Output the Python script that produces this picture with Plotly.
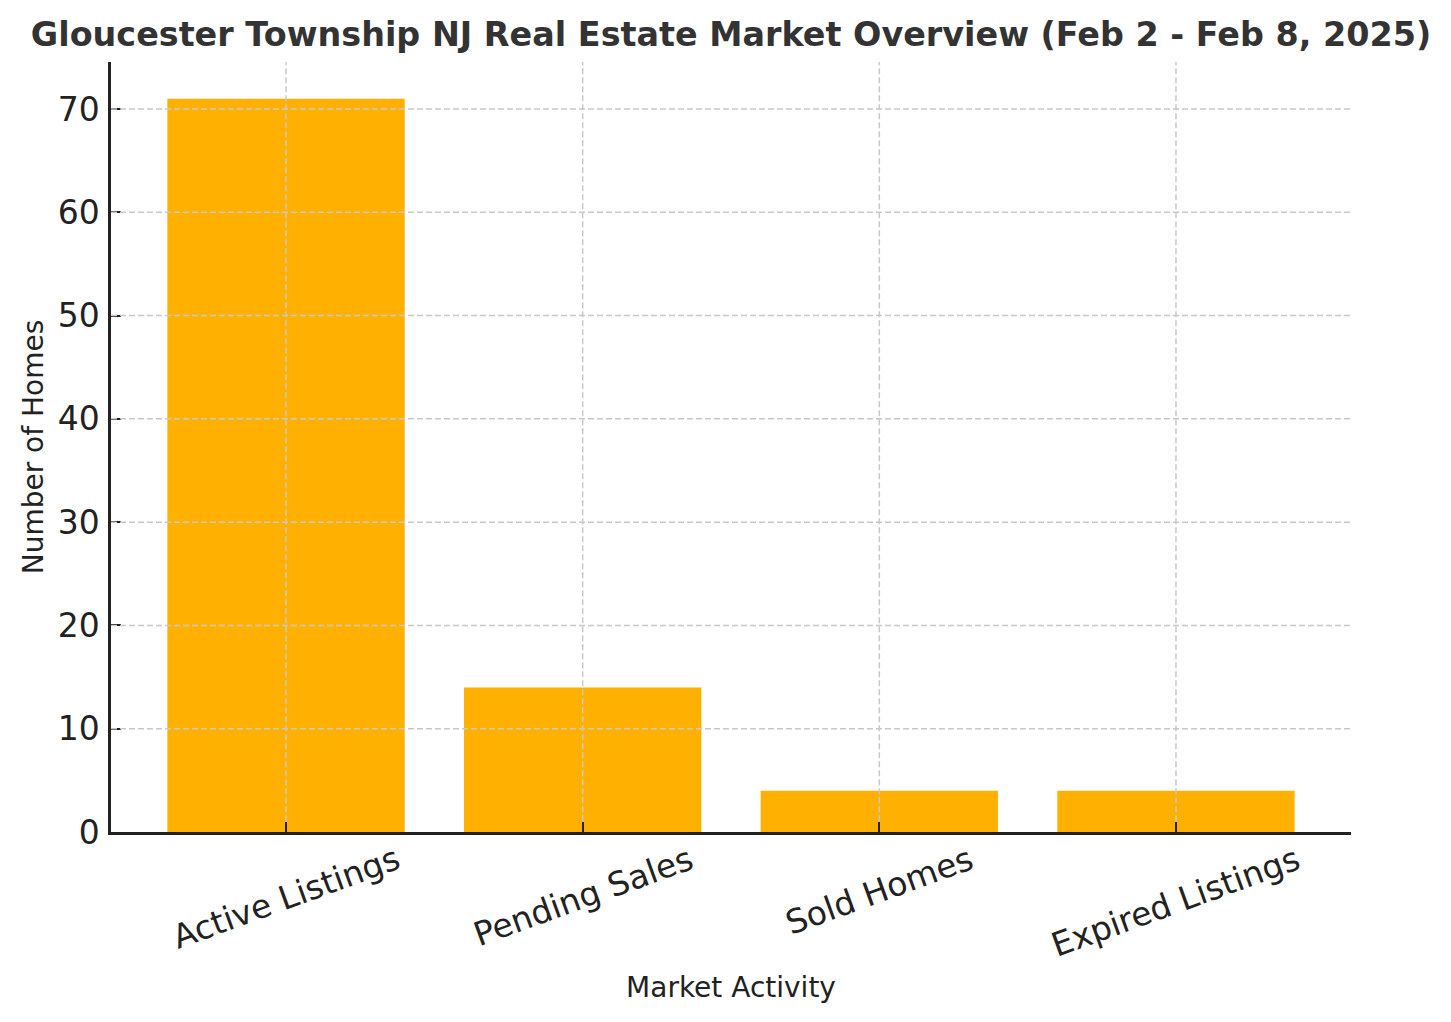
import plotly.graph_objects as go

categories = ["Active Listings", "Pending Sales", "Sold Homes", "Expired Listings"]
values = [71, 14, 4, 4]
y_ticks = [0, 10, 20, 30, 40, 50, 60, 70]

title_text = "Gloucester Township NJ Real Estate Market Overview (Feb 2 - Feb 8, 2025)"
x_label = "Market Activity"
y_label = "Number of Homes"

BAR_COLOR = "#FFB000"
TEXT = "#222222"
GRID = "#c8c8c8"
FONT = "DejaVu Sans"

x_pos = list(range(len(categories)))

fig = go.Figure()
fig.add_trace(go.Bar(
    x=x_pos, y=values, width=0.8,
    marker=dict(color=BAR_COLOR, line=dict(width=0)),
    hoverinfo="x+y",
))

shapes = []
for t in y_ticks:
    if t == 0:
        continue
    shapes.append(dict(type="line", xref="paper", x0=0, x1=1, yref="y", y0=t, y1=t,
                       line=dict(color=GRID, width=1.5, dash="6px,3px"), layer="above"))
for p in x_pos:
    shapes.append(dict(type="line", xref="x", x0=p, x1=p, yref="paper", y0=0.014, y1=1,
                       line=dict(color=GRID, width=1.5, dash="6px,3px"), layer="above"))

annotations = []
for p, c in zip(x_pos, categories):
    annotations.append(dict(x=p, xref="x", y=0, yref="paper", text=c, showarrow=False,
                            textangle=-20, xanchor="center", yanchor="top", yshift=-4,
                            font=dict(family=FONT, size=33, color=TEXT)))

fig.update_layout(
    width=1451, height=1022,
    margin=dict(l=111, r=100, t=62, b=190, autoexpand=False),
    paper_bgcolor="white", plot_bgcolor="white",
    showlegend=False,
    title=dict(text="<b>" + title_text + "</b>", x=0.5, xanchor="center", xref="paper",
               y=1 - 34 / 1022, yref="container", yanchor="middle",
               font=dict(family=FONT, size=33.4, color="#333333")),
    shapes=shapes,
    annotations=annotations,
    bargap=0.2,
)

fig.update_xaxes(
    range=[-0.59, 3.59], tickvals=x_pos, showticklabels=False,
    showgrid=False, zeroline=False,
    showline=True, linecolor=TEXT, linewidth=2.5,
    ticks="inside", ticklen=10, tickwidth=2, tickcolor=TEXT,
    layer="above traces",
    title=dict(text=x_label, standoff=144, font=dict(family=FONT, size=28, color=TEXT)),
)
fig.update_yaxes(
    range=[0, 74.55], tickvals=y_ticks, ticktext=[str(t) for t in y_ticks],
    showgrid=False, zeroline=False,
    showline=True, linecolor=TEXT, linewidth=2.5,
    ticks="inside", ticklen=10, tickwidth=2, tickcolor=TEXT,
    ticklabelstandoff=2,
    tickfont=dict(family=FONT, size=33, color=TEXT),
    layer="above traces",
    title=dict(text=y_label, standoff=6, font=dict(family=FONT, size=28, color=TEXT)),
)

fig.write_html("out.html")
